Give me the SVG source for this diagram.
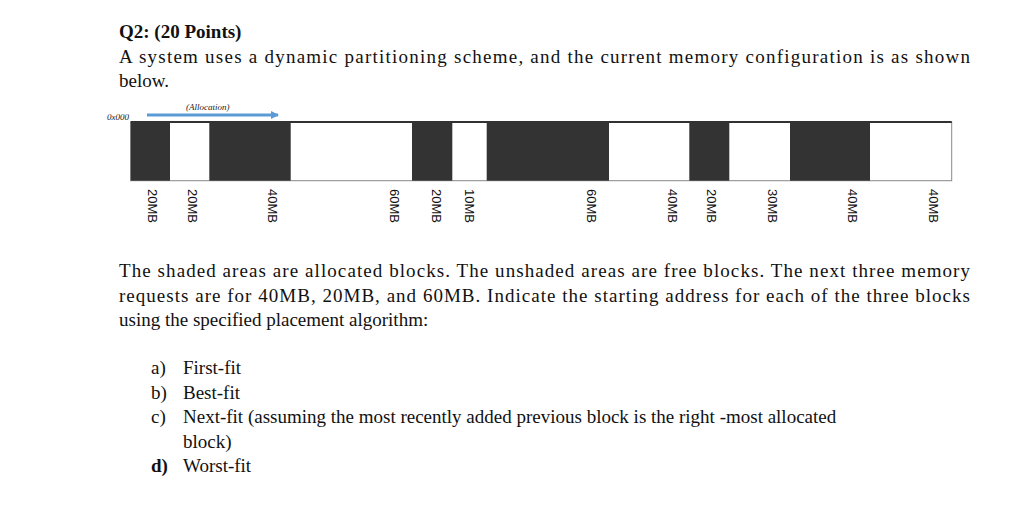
<svg xmlns="http://www.w3.org/2000/svg" width="1024" height="519" viewBox="0 0 1024 519">
<style>
.t{font-family:"Liberation Serif",serif;font-size:19px;fill:#111}
.b{font-weight:bold}
.d{fill:#333}
.w{fill:#fff}
.l{font-family:"Liberation Sans",sans-serif;font-size:13px;fill:#111}
.i{font-family:"Liberation Serif",serif;font-style:italic;font-size:9px;fill:#222}
</style>
<defs><marker id="ah" markerWidth="8" markerHeight="8" refX="7" refY="4" orient="auto" markerUnits="userSpaceOnUse"><path d="M0,0L8,4L0,8z" fill="#5b9bd5"/></marker></defs>
<rect width="1024" height="519" fill="#fff"/>
<text class="t b" x="119" y="38">Q2: (20 Points)</text>
<text class="t" x="119" y="63" textLength="851" lengthAdjust="spacing">A system uses a dynamic partitioning scheme, and the current memory configuration is as shown</text>
<text class="t" x="119" y="87">below.</text>
<text class="i" x="107" y="120">0x000</text>
<text class="i" x="186" y="110">(Allocation)</text>
<g id="connectors"><line x1="147" y1="115" x2="278" y2="115" stroke="#5b9bd5" stroke-width="3" marker-end="url(#ah)"/></g>
<g id="memory">
<rect x="130.7" y="122" width="821" height="58.7" fill="#fff" stroke="#888" stroke-width="1"/>
<line x1="130.7" y1="122" x2="951.7" y2="122" stroke="#000" stroke-width="1.5"/>
<rect class="d" x="130.7" y="122" width="39.3" height="58.7"/>
<rect class="d" x="209.3" y="122" width="81.4" height="58.7"/>
<rect class="d" x="412" y="122" width="40.3" height="58.7"/>
<rect class="d" x="486.7" y="122" width="122.3" height="58.7"/>
<rect class="d" x="689.3" y="122" width="40" height="58.7"/>
<rect class="d" x="790" y="122" width="80" height="58.7"/>
</g>
<g id="labels" class="l">
<text transform="translate(148,189) rotate(90)">20MB</text>
<text transform="translate(188,189) rotate(90)">20MB</text>
<text transform="translate(268,189) rotate(90)">40MB</text>
<text transform="translate(390,189) rotate(90)">60MB</text>
<text transform="translate(432,189) rotate(90)">20MB</text>
<text transform="translate(465,189) rotate(90)">10MB</text>
<text transform="translate(587,189) rotate(90)">60MB</text>
<text transform="translate(668,189) rotate(90)">40MB</text>
<text transform="translate(707,189) rotate(90)">20MB</text>
<text transform="translate(768,189) rotate(90)">30MB</text>
<text transform="translate(848,189) rotate(90)">40MB</text>
<text transform="translate(929,189) rotate(90)">40MB</text>
</g>
<text class="t" x="119" y="277" textLength="851" lengthAdjust="spacing">The shaded areas are allocated blocks. The unshaded areas are free blocks. The next three memory</text>
<text class="t" x="119" y="302" textLength="851" lengthAdjust="spacing">requests are for 40MB, 20MB, and 60MB. Indicate the starting address for each of the three blocks</text>
<text class="t" x="119" y="326">using the specified placement algorithm:</text>
<text class="t" x="151" y="374">a)</text><text class="t" x="183" y="374">First-fit</text>
<text class="t" x="151" y="399">b)</text><text class="t" x="183" y="399">Best-fit</text>
<text class="t" x="151" y="423">c)</text><text class="t" x="183" y="423">Next-fit (assuming the most recently added previous block is the right -most allocated</text>
<text class="t" x="183" y="448">block)</text>
<text class="t b" x="151" y="472">d)</text><text class="t" x="183" y="472">Worst-fit</text>
</svg>
